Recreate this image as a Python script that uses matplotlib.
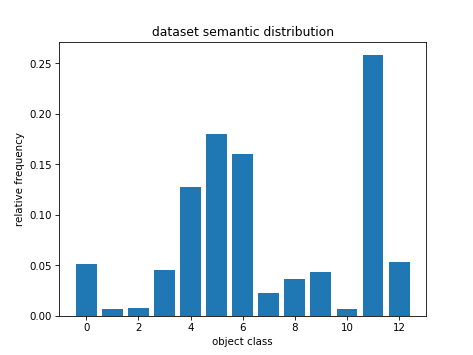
import matplotlib
matplotlib.use("Agg")
import matplotlib.pyplot as plt

classes = list(range(13))
freqs = [0.0512, 0.0073, 0.0083, 0.0459, 0.1274, 0.1805, 0.1607,
         0.0224, 0.0366, 0.0439, 0.0066, 0.2578, 0.0535]

fig = plt.figure(figsize=(6.4, 4.8), dpi=74)
plt.bar(classes, freqs)
plt.xlabel('object class')
plt.ylabel('relative frequency')
plt.title('dataset semantic distribution')
plt.savefig('out.png', dpi=74)
